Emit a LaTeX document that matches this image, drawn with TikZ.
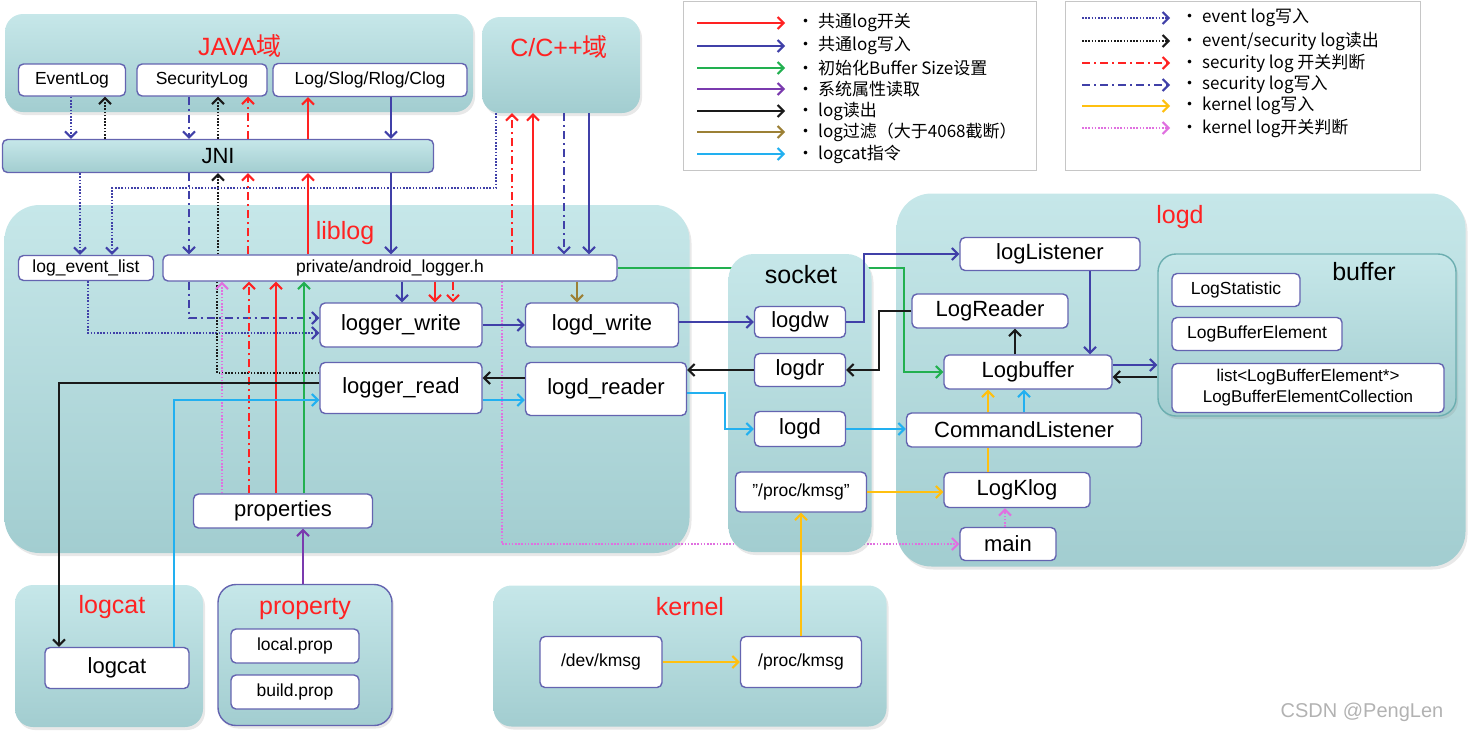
\documentclass[tikz,border=0pt]{standalone}
\usepackage{fontspec}
\setmainfont{Liberation Sans}
\newfontfamily\cjk{Noto Sans CJK SC}
\usepackage{xcolor}
\usepackage{tikz}
\usetikzlibrary{arrows, arrows.meta, shapes, positioning, shadows}

\definecolor{rougeL}{HTML}{FF2222}
\definecolor{bleuL}{HTML}{4040A8}
\definecolor{vertL}{HTML}{22B050}
\definecolor{violetL}{HTML}{7A3AAE}
\definecolor{noirL}{HTML}{1A1A1A}
\definecolor{brunL}{HTML}{9C8035}
\definecolor{cielL}{HTML}{22B0F0}
\definecolor{jauneL}{HTML}{FFC010}
\definecolor{roseL}{HTML}{E070E0}
\definecolor{bordL}{HTML}{6464B0}
\definecolor{hautL}{HTML}{C6E7E9}
\definecolor{basL}{HTML}{A2CDD0}
\definecolor{sarcelle}{HTML}{6BAEB0}

\tikzstyle{domaine} = [rectangle, rounded corners=18pt, top color=hautL, bottom color=basL, draw=none, drop shadow={opacity=0.18, shadow xshift=2pt, shadow yshift=-3pt}]
\tikzstyle{titre} = [text=rougeL, font=\fontsize{25}{27}\selectfont]
\tikzstyle{titrenoir} = [text=black, font=\fontsize{25}{27}\selectfont]
\tikzstyle{petit} = [rectangle, rounded corners=5pt, draw=bordL, line width=1.4pt, fill=white, inner sep=1pt, font=\fontsize{17.5}{20}\selectfont]
\tikzstyle{grand} = [petit, font=\fontsize{22}{24}\selectfont]
\tikzstyle{barre} = [petit, top color=hautL, bottom color=basL, font=\fontsize{22}{24}\selectfont]
\tikzstyle{cadre} = [rectangle, draw=gray!45, line width=1pt, fill=white, inner sep=0pt]
\tikzstyle{legende} = [inner sep=0pt, font=\cjk\fontsize{17}{19}\selectfont]
\tikzstyle{fleche} = [line width=2.1pt, ->]

\tikzset{
  plein/.style={solid},
  pointille/.style={dash pattern=on 1.6pt off 1.6pt},
  tiretpoint/.style={dash pattern=on 8pt off 4pt on 2pt off 4pt},
  >={Straight Barb[length=6pt,width=12pt]}
}

\begin{document}
\begin{tikzpicture}[x=1pt, y=-1pt]
\useasboundingbox (0,0) rectangle (1473,737);

% legendes
\node (leg1) [cadre, minimum width=353, minimum height=169] at (860,86) {};
\node (leg2) [cadre, minimum width=355, minimum height=169] at (1243,86) {};
\foreach \y/\coul/\sty/\txt [count=\i] in {23/rougeL/plein/{共通log开关}, 46/bleuL/plein/{共通log写入}, 68/vertL/plein/{初始化Buffer Size设置}, 89/violetL/plein/{系统属性读取}, 111/noirL/plein/{log读出}, 132/brunL/plein/{log过滤（大于4068截断）}, 154/cielL/plein/{logcat指令}}{
  \coordinate (ga\i) at (697,\y);
  \coordinate (gb\i) at (785,\y);
  \draw[fleche, \sty, color=\coul] (ga\i) -- (gb\i);
  \node (gt\i) [legende, anchor=west] at (797,\y) {\makebox[21pt][l]{•}\txt};
}
\foreach \y/\coul/\sty/\txt [count=\i] in {18/bleuL/pointille/{event log写入}, 41/noirL/pointille/{event/security log读出}, 63/rougeL/tiretpoint/{security log 开关判断}, 85/bleuL/tiretpoint/{security log写入}, 106/jauneL/plein/{kernel log写入}, 128/roseL/pointille/{kernel log开关判断}}{
  \coordinate (ha\i) at (1082,\y);
  \coordinate (hb\i) at (1170,\y);
  \draw[fleche, \sty, color=\coul] (ha\i) -- (hb\i);
  \node (ht\i) [legende, anchor=west] at (1181,\y) {\makebox[21pt][l]{•}\txt};
}

% domaines
\node (java) [domaine, minimum width=468, minimum height=98] at (239,63) {};
\node (javat) [titre] at (240,46) {JAVA{\cjk 域}};
\node (cpp) [domaine, minimum width=158, minimum height=96] at (561,65) {};
\node (cppt) [titre] at (559,47) {C/C++{\cjk 域}};
\node (liblog) [domaine, rounded corners=35pt, minimum width=685, minimum height=348] at (347,379) {};
\node (liblogt) [titre] at (345,233) {liblog};
\node (logd) [domaine, rounded corners=35pt, minimum width=569, minimum height=373] at (1181,380) {};
\node (logdt) [titre] at (1180,217) {logd};
\node (buffer) [domaine, draw=sarcelle, line width=1.4pt, minimum width=298, minimum height=162] at (1307,335) {};
\node (buffert) [titrenoir] at (1364,272) {buffer};
\node (logcat) [domaine, minimum width=188, minimum height=142] at (109,656) {};
\node (logcatt) [titre] at (112,607) {logcat};
\node (property) [domaine, draw=bordL, line width=1.4pt, minimum width=174, minimum height=141] at (305,655) {};
\node (propertyt) [titre] at (305,609) {property};
\node (kernel) [domaine, minimum width=393, minimum height=141] at (690,656) {};
\node (kernelt) [titre] at (690,607) {kernel};

% JAVA / C
\node (eventlog) [petit, minimum width=107, minimum height=32] at (72,80) {EventLog};
\node (securitylog) [petit, minimum width=130, minimum height=32] at (202,80) {SecurityLog};
\node (logslog) [petit, minimum width=194, minimum height=33] at (370,80) {Log/Slog/Rlog/Clog};
\node (jni) [barre, minimum width=431, minimum height=33] at (218,156) {JNI};

% liblog
\node (logevent) [petit, minimum width=135, minimum height=25] at (86,268) {log\_event\_list};
\node (android) [petit, minimum width=454, minimum height=26] at (390,268) {private/android\_logger.h};
\node (loggerw) [grand, minimum width=162, minimum height=44] at (401,325) {logger\_write};
\node (logdwrite) [grand, minimum width=153, minimum height=44] at (602,325) {logd\_write};
\node (loggerr) [grand, minimum width=162, minimum height=51] at (401,388) {logger\_read};
\node (logdreader) [grand, minimum width=161, minimum height=53] at (606,389) {logd\_reader};
\node (properties) [grand, minimum width=179, minimum height=34] at (283,511) {properties};

% logd
\node (loglistener) [grand, minimum width=180, minimum height=33] at (1050,254) {logListener};
\node (logreader) [grand, minimum width=156, minimum height=34] at (990,311) {LogReader};
\node (logbuffer) [grand, minimum width=168, minimum height=34] at (1028,372) {Logbuffer};
\node (cmdlistener) [grand, minimum width=235, minimum height=34] at (1024,430) {CommandListener};
\node (logklog) [grand, minimum width=146, minimum height=35] at (1017,490) {LogKlog};
\node (main) [grand, minimum width=96, minimum height=33] at (1008,544) {main};
\node (logstat) [petit, minimum width=128, minimum height=33] at (1236,290) {LogStatistic};
\node (logelem) [petit, minimum width=170, minimum height=33] at (1257,334) {LogBufferElement};
\node (logcoll) [petit, align=center, font=\fontsize{17}{21}\selectfont, minimum width=272, minimum height=49] at (1308,388) {list<LogBufferElement*>\\LogBufferElementCollection};

% logcat / property / kernel
\node (logcatin) [grand, minimum width=144, minimum height=41] at (117,668) {logcat};
\node (localprop) [petit, minimum width=128, minimum height=34] at (295,646) {local.prop};
\node (buildprop) [petit, minimum width=128, minimum height=34] at (295,692) {build.prop};
\node (devkmsg) [petit, minimum width=122, minimum height=51] at (601,662) {/dev/kmsg};
\node (prockmsg) [petit, minimum width=121, minimum height=51] at (801,662) {/proc/kmsg};

% lignes sous le socket
\draw[fleche, vertL] (android.east) -- ++(286,0) |- (logbuffer.west);
\draw[fleche, pointille, roseL] ([xshift=112]android.south) |- (main.west);

% socket
\node (socket) [domaine, rounded corners=25pt, minimum width=143, minimum height=298] at (800,403) {};
\node (sockett) [titrenoir] at (801,275) {socket};
\node (logdw) [grand, minimum width=91, minimum height=31] at (800,322) {logdw};
\node (logdr) [grand, minimum width=91, minimum height=33] at (800,370) {logdr};
\node (logdsock) [grand, minimum width=91, minimum height=35] at (800,429) {logd};
\node (kmsgsock) [petit, minimum width=131, minimum height=40] at (801,492) {"/proc/kmsg"};

% JAVA -> JNI
\draw[fleche, pointille, bleuL] ([xshift=-1]eventlog.south) -- ([xshift=-1]eventlog.south |- jni.north);
\draw[fleche, pointille, noirL] ([xshift=33]eventlog.south |- jni.north) -- ([xshift=33]eventlog.south);
\draw[fleche, tiretpoint, bleuL] ([xshift=-13]securitylog.south) -- ([xshift=-13]securitylog.south |- jni.north);
\draw[fleche, pointille, noirL] ([xshift=16]securitylog.south |- jni.north) -- ([xshift=16]securitylog.south);
\draw[fleche, tiretpoint, rougeL] ([xshift=46]securitylog.south |- jni.north) -- ([xshift=46]securitylog.south);
\draw[fleche, rougeL] ([xshift=-62]logslog.south |- jni.north) -- ([xshift=-62]logslog.south);
\draw[fleche, bleuL] ([xshift=21]logslog.south) -- ([xshift=21]logslog.south |- jni.north);

% JNI / C -> liblog
\draw[fleche, pointille, bleuL] ([xshift=-6]logevent.north |- jni.south) -- ([xshift=-6]logevent.north);
\draw[fleche, pointille, bleuL] ([xshift=-65]cpp.south) -- ++(0,75) -| ([xshift=26]logevent.north);
\draw[fleche, tiretpoint, bleuL] ([xshift=-201]android.north |- jni.south) -- ([xshift=-201]android.north);
\draw[fleche, pointille, noirL] ([xshift=-172]android.north) -- ([xshift=-172]android.north |- jni.south);
\draw[fleche, tiretpoint, rougeL] ([xshift=-142]android.north) -- ([xshift=-142]android.north |- jni.south);
\draw[fleche, rougeL] ([xshift=-82]android.north) -- ([xshift=-82]android.north |- jni.south);
\draw[fleche, bleuL] ([xshift=1]android.north |- jni.south) -- ([xshift=1]android.north);
\draw[fleche, tiretpoint, rougeL] ([xshift=122]android.north) -- ([xshift=122]android.north |- cpp.south);
\draw[fleche, rougeL] ([xshift=143]android.north) -- ([xshift=143]android.north |- cpp.south);
\draw[fleche, tiretpoint, bleuL] ([xshift=174]android.north |- cpp.south) -- ([xshift=174]android.north);
\draw[fleche, bleuL] ([xshift=199]android.north |- cpp.south) -- ([xshift=199]android.north);

% liblog interne
\draw[fleche, tiretpoint, bleuL] ([xshift=-201]android.south) |- ([yshift=7]loggerw.west);
\draw[fleche, pointille, bleuL] ([xshift=2]logevent.south) |- ([yshift=-8]loggerw.west);
\draw[line width=2.1pt, pointille, noirL] ([yshift=15]loggerr.west) -| ([xshift=-173]android.south);
\draw[fleche, pointille, roseL] ([xshift=-61]properties.north) -- ([xshift=-61]properties.north |- android.south);
\draw[fleche, tiretpoint, rougeL] ([xshift=-34]properties.north) -- ([xshift=-34]properties.north |- android.south);
\draw[fleche, rougeL] ([xshift=-7]properties.north) -- ([xshift=-7]properties.north |- android.south);
\draw[fleche, vertL] ([xshift=21]properties.north) -- ([xshift=21]properties.north |- android.south);
\draw[fleche, bleuL] ([xshift=12]android.south) -- ([xshift=12]android.south |- loggerw.north);
\draw[fleche, rougeL] ([xshift=45]android.south) -- ([xshift=45]android.south |- loggerw.north);
\draw[fleche, tiretpoint, rougeL] ([xshift=63]android.south) -- ([xshift=63]android.south |- loggerw.north);
\draw[fleche, brunL] ([xshift=187]android.south) -- ([xshift=187]android.south |- logdwrite.north);
\draw[fleche, bleuL] (loggerw.east) -- (logdwrite.west);
\draw[fleche, bleuL] (logdwrite.east |- logdw.west) -- (logdw.west);
\draw[fleche, noirL] (logdr.west) -- (logdr.west -| logdreader.east);
\draw[fleche, noirL] ([yshift=11]logdreader.west) -- ([yshift=11]logdreader.west -| loggerr.east);
\draw[fleche, noirL] ([yshift=5]loggerr.west) -| ([xshift=-58]logcatin.north);
\draw[fleche, cielL] ([xshift=57]logcatin.north) |- ([yshift=-12]loggerr.west);
\draw[fleche, cielL] ([yshift=-12]loggerr.east) -- ([yshift=-12]loggerr.east -| logdreader.west);
\draw[fleche, cielL] ([yshift=-4]logdreader.east) -- ++(38,0) |- (logdsock.west);
\draw[fleche, violetL] ([xshift=-2]property.north) -- ([xshift=-2]property.north |- properties.south);

% logd interne
\draw[fleche, bleuL] (logdw.east) -- ++(18,0) |- (loglistener.west);
\draw[fleche, bleuL] ([xshift=40]loglistener.south) -- ([xshift=40]loglistener.south |- logbuffer.north);
\draw[fleche, noirL] ([xshift=-13]logbuffer.north) -- ([xshift=-13]logbuffer.north |- logreader.south);
\draw[fleche, noirL] (logreader.west) -- ++(-32,0) |- (logdr.east);
\draw[fleche, cielL] (logdsock.east) -- (logdsock.east -| cmdlistener.west);
\draw[fleche, cielL] (cmdlistener.north) -- (cmdlistener.north |- logbuffer.south);
\draw[line width=2.1pt, jauneL] ([xshift=-29]logklog.north) -- ([xshift=-29]logklog.north |- cmdlistener.south);
\draw[fleche, jauneL] ([xshift=-29]logklog.north |- cmdlistener.north) -- ([xshift=-29]logklog.north |- logbuffer.south);
\draw[fleche, jauneL] (kmsgsock.east) -- (kmsgsock.east -| logklog.west);
\draw[fleche, jauneL] (prockmsg.north) -- (prockmsg.north |- kmsgsock.south);
\draw[fleche, jauneL] (devkmsg.east) -- (prockmsg.west);
\draw[fleche, pointille, roseL] ([xshift=-3]main.north) -- ([xshift=-3]main.north |- logklog.south);
\draw[fleche, bleuL] ([yshift=7]logbuffer.east) -- ([yshift=7]logbuffer.east -| buffer.west);
\draw[fleche, noirL] ([yshift=-5]logbuffer.east -| buffer.west) -- ([yshift=-5]logbuffer.east);

\node (csdn) [text=gray!60, font=\fontsize{20}{22}\selectfont] at (1362,712) {CSDN @PengLen};
\end{tikzpicture}
\end{document}
